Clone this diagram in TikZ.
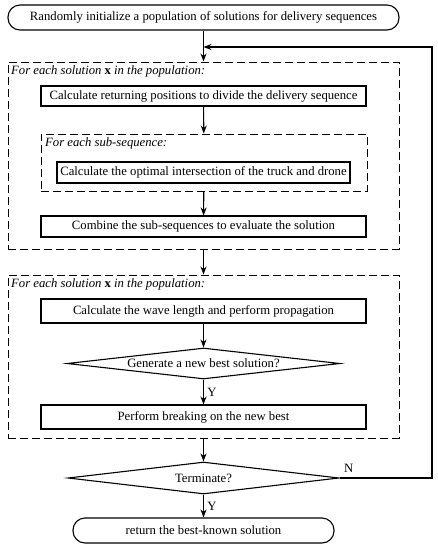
\documentclass[tikz,border=0pt]{standalone}
\usepackage{fontspec}
\setmainfont{Liberation Serif}
\usetikzlibrary{arrows.meta,shapes.geometric}

\tikzset{
  termbox/.style={draw, line width=1.1pt, rounded corners=12pt, minimum height=25pt, inner sep=0pt},
  procbox/.style={draw, line width=1.1pt, minimum width=325pt, inner sep=0pt},
  loopbox/.style={draw, line width=1pt, dash pattern=on 8pt off 4pt, inner sep=0pt},
  looplabel/.style={anchor=north west, inner sep=2pt, font=\fontsize{12.7pt}{15pt}\selectfont\itshape},
  decide/.style={draw, line width=1.1pt, diamond, aspect=8.8, inner sep=0pt},
  flow/.style={-{Stealth[length=8pt,width=6pt]}, line width=1.1pt}
}

\begin{document}
\begin{tikzpicture}[x=1pt,y=-1pt, font=\fontsize{12.7pt}{15pt}\selectfont]
        \useasboundingbox (0,0) rectangle (438,550);

        % start
        \node [termbox, minimum width=391pt] (init) at (203.5,17.5) {Randomly initialize a population of solutions for delivery sequences};
        \coordinate (join) at (203.5,47);
        \coordinate (loop) at (432,47);

        % evaluation loop
        \node [loopbox, minimum width=391pt, minimum height=187pt] (outerA) at (203.5,155.5) {};
        \node [looplabel] (labelA) at (9,63) {For each solution \textbf{\upshape x} in the population:};
        \node [procbox, minimum height=20pt] (calcpos) at (203.5,96) {Calculate returning positions to divide the delivery sequence};
        \node [loopbox, minimum width=326pt, minimum height=57pt] (innerB) at (204,162.5) {};
        \node [looplabel] (labelB) at (43,135) {For each sub-sequence:};
        \node [procbox, minimum width=293pt, minimum height=21pt] (intersect) at (203.5,172.5) {Calculate the optimal intersection of the truck and drone};
        \node [procbox, minimum height=21pt] (combine) at (203.5,226.5) {Combine the sub-sequences to evaluate the solution};

        % propagation loop
        \node [loopbox, minimum width=391pt, minimum height=163pt] (outerC) at (203.5,356.5) {};
        \node [looplabel] (labelC) at (9,276) {For each solution \textbf{\upshape x} in the population:};
        \node [procbox, minimum height=24pt] (wave) at (203.5,311) {Calculate the wave length and perform propagation};
        \node [decide, minimum width=273pt, minimum height=31pt] (best) at (203.5,363.5) {Generate a new best solution?};
        \node [procbox, minimum height=24pt] (breaking) at (203.5,417) {Perform breaking on the new best};

        % end
        \node [decide, minimum width=271pt, minimum height=32pt] (term) at (203.5,478) {Terminate?};
        \node [termbox, minimum width=261pt] (final) at (203.5,530.5) {return the best-known solution};

        \draw [flow] (init) -- (outerA);
        \draw [flow] (calcpos) -- (innerB);
        \draw [flow] (innerB) -- (combine);
        \draw [flow] (outerA) -- (outerC);
        \draw [flow] (wave) -- (best);
        \draw [flow] (best) -- node [right] {Y} (breaking);
        \draw [flow] (outerC) -- (term);
        \draw [flow] (term) -- node [right] {Y} (final);
        \draw [flow] (term.east) -- node [above=2pt, pos=0.1] {N} (term.east -| loop) -- (loop) -- (join);
    \end{tikzpicture}
\end{document}
